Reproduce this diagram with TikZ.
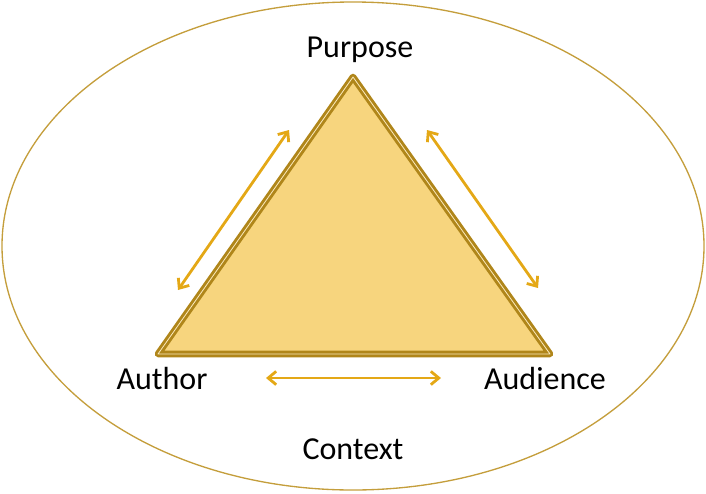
\documentclass[tikz,border=0pt]{standalone}
\usepackage{fontspec}
\setmainfont{Carlito}
\usepackage{tikz}
\usetikzlibrary{arrows.meta, positioning}
\definecolor{ctxgold}{RGB}{196,158,60}
\definecolor{trigold}{RGB}{176,134,26}
\definecolor{trifill}{RGB}{247,213,126}
\definecolor{arrgold}{RGB}{228,168,22}

\tikzset{
  corner/.style={font=\fontsize{24}{28}\selectfont, text=black},
  relarrow/.style={{Straight Barb[length=6pt,width=10pt]}-{Straight Barb[length=6pt,width=10pt]}, arrgold, line width=2.1pt}
}

\begin{document}
\begin{tikzpicture}[x=0.75pt, y=-0.75pt]
  \useasboundingbox (0,0) rectangle (706,493);
  % context
  \draw[ctxgold, line width=1pt] (353,246) ellipse (351 and 244);
  % triangle
  \coordinate (top) at (353,77);
  \coordinate (left) at (158,354);
  \coordinate (right) at (550,354);
  \draw[trigold, fill=trifill, line width=2.2pt, double=trifill!50!white, double distance=0.6pt, line join=round]
    (top) -- (left) -- (right) -- cycle;
  % labels
  \node[corner] (purpose) at (360,50) {Purpose};
  \node[corner] (author) at (162,379) {Author};
  \node[corner] (audience) at (545,379) {Audience};
  \node[corner] (context) at (353,449) {Context};
  % arrows
  \coordinate (la) at (178,290);
  \coordinate (lb) at (289,130);
  \coordinate (ra) at (427,130);
  \coordinate (rb) at (538,288);
  \coordinate (ba) at (266,378);
  \coordinate (bb) at (441,378);
  \draw[relarrow] (la) -- (lb);
  \draw[relarrow] (ra) -- (rb);
  \draw[relarrow] (ba) -- (bb);
\end{tikzpicture}
\end{document}
